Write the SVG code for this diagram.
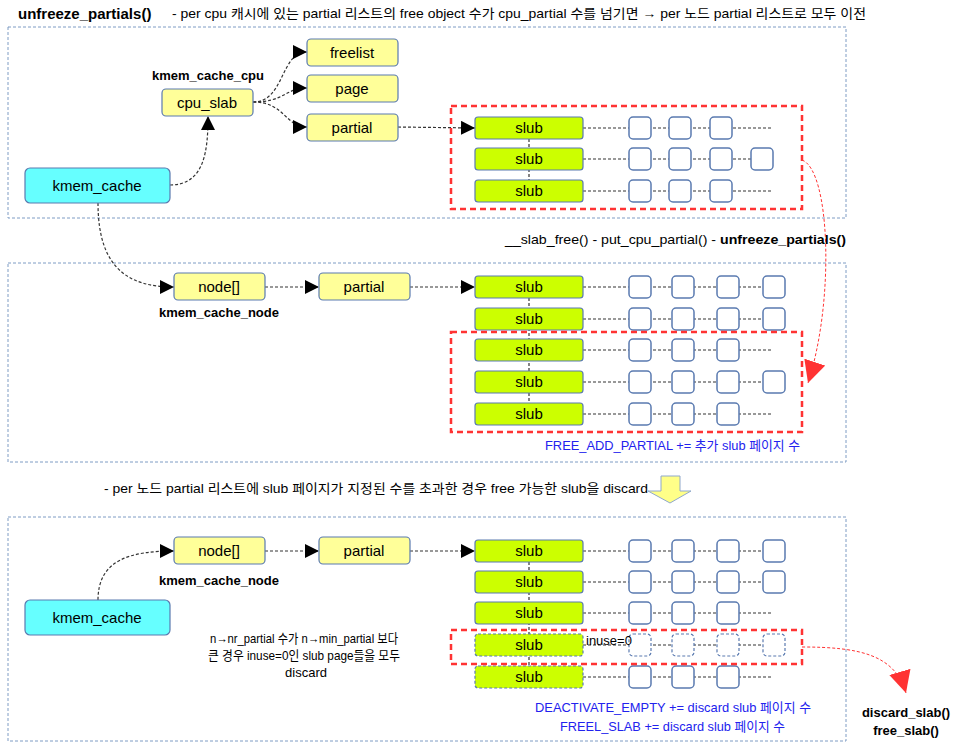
<svg xmlns="http://www.w3.org/2000/svg" width="962" height="750" viewBox="0 0 962 750">
<defs>
<style>
text{font-family:"Liberation Sans","Noto Sans CJK KR",sans-serif;}
.panel{fill:none;stroke:#7f9cc4;stroke-width:1;stroke-dasharray:3,2}
.y{fill:#ffff99;stroke:#5a7ab0;stroke-width:1.2}
.c{fill:#66ffff;stroke:#5a7ab0;stroke-width:1.2}
.s{fill:#ccff00;stroke:#5a7ab0;stroke-width:1.2}
.sd{fill:#ccff00;stroke:#5a7ab0;stroke-width:1.2;stroke-dasharray:3,2}
.o{fill:#fff;stroke:#5a7ab0;stroke-width:1.5}
.od{fill:#fff;stroke:#5a7ab0;stroke-width:1.2;stroke-dasharray:3,2}
.red{fill:none;stroke:#ff3333;stroke-width:2.5;stroke-dasharray:6,4}
.con{fill:none;stroke:#333;stroke-width:1.2;stroke-dasharray:3,2}
.lt{font-size:15px;text-anchor:middle}
.b{font-weight:bold}
.blue{fill:#2222ee;font-size:13px}
</style>
<marker id="ah" viewBox="0 0 10 10" refX="10" refY="5" markerWidth="14" markerHeight="14" markerUnits="userSpaceOnUse" orient="auto"><path d="M0,0L10,5L0,10z" fill="#000"/></marker>
<marker id="rh" viewBox="0 0 10 10" refX="10" refY="5" markerWidth="22" markerHeight="22" markerUnits="userSpaceOnUse" orient="auto"><path d="M0,0L10,5L0,10z" fill="#ff3333"/></marker>
</defs>
<rect width="962" height="750" fill="#fff"/>
<text x="18" y="19" font-size="15" class="b">unfreeze_partials()</text>
<text x="172" y="18" font-size="13" textLength="694" lengthAdjust="spacingAndGlyphs">- per cpu 캐시에 있는 partial 리스트의 free object 수가 cpu_partial 수를 넘기면 → per 노드 partial 리스트로 모두 이전</text>
<rect class="panel" x="8" y="27" width="838" height="191"/>
<rect class="panel" x="8" y="263" width="838" height="199"/>
<rect class="panel" x="8" y="517" width="838" height="224"/>

<g id="connectors">
<path class="con" d="M170,185 C205,185 208,150 208,116" marker-end="url(#ah)"/>
<path class="con" d="M253,102 C285,102 280,52 307,52" marker-end="url(#ah)"/>
<path class="con" d="M253,102 C285,102 285,88 307,88" marker-end="url(#ah)"/>
<path class="con" d="M253,102 C285,102 285,127 307,127" marker-end="url(#ah)"/>
<path class="con" d="M398,127 L475,128" marker-end="url(#ah)"/>
<path class="con" d="M98,203 C98,270 130,287 174,287" marker-end="url(#ah)"/>
<path class="con" d="M265,287 L319,287" marker-end="url(#ah)"/>
<path class="con" d="M410,287 L475,287" marker-end="url(#ah)"/>
<path class="con" d="M98,600 C98,560 130,551 174,551" marker-end="url(#ah)"/>
<path class="con" d="M265,551 L319,551" marker-end="url(#ah)"/>
<path class="con" d="M410,551 L475,551" marker-end="url(#ah)"/>
<path class="con" d="M529,139V180M529,298V403M529,562V666"/>
<path class="con" d="M583,128H773M583,159H773M583,191H773"/>
<path class="con" d="M583,287H763M583,319H763M583,350H773M583,382H763M583,414H773"/>
<path class="con" d="M583,551H763M583,582H763M583,613H773M583,645H763M583,677H773"/>
<path d="M802,160 C830,170 835,300 808,383" fill="none" stroke="#ff3333" stroke-width="1" stroke-dasharray="3,2" marker-end="url(#rh)"/>
<path d="M802,647 C860,647 895,655 906,693" fill="none" stroke="#ff3333" stroke-width="1" stroke-dasharray="3,2" marker-end="url(#rh)"/>
</g>

<g id="freelist"><rect class="y" x="307" y="39" width="91" height="27" rx="4"/><text class="lt" x="352" y="58">freelist</text></g>
<g id="page"><rect class="y" x="307" y="75" width="91" height="27" rx="4"/><text class="lt" x="352" y="94">page</text></g>
<g id="cpu_partial"><rect class="y" x="307" y="114" width="91" height="27" rx="4"/><text class="lt" x="352" y="133">partial</text></g>
<g id="cpu_slab"><text x="208" y="80" font-size="13" class="b" text-anchor="middle">kmem_cache_cpu</text><rect class="y" x="162" y="89" width="91" height="27" rx="4"/><text class="lt" x="207" y="108">cpu_slab</text></g>
<g id="kmem_cache1"><rect class="c" x="25" y="168" width="145" height="35" rx="5"/><text class="lt" x="97" y="191">kmem_cache</text></g>

<g id="slubs1">
<rect class="s" x="475" y="117" width="108" height="22" rx="3"/><text class="lt" x="529" y="133">slub</text>
<rect class="s" x="475" y="148" width="108" height="22" rx="3"/><text class="lt" x="529" y="164">slub</text>
<rect class="s" x="475" y="180" width="108" height="22" rx="3"/><text class="lt" x="529" y="196">slub</text>
<rect class="o" x="629" y="117" width="22" height="22" rx="4"/><rect class="o" x="669" y="117" width="22" height="22" rx="4"/><rect class="o" x="710" y="117" width="22" height="22" rx="4"/>
<rect class="o" x="629" y="148" width="22" height="22" rx="4"/><rect class="o" x="669" y="148" width="22" height="22" rx="4"/><rect class="o" x="710" y="148" width="22" height="22" rx="4"/><rect class="o" x="751" y="148" width="22" height="22" rx="4"/>
<rect class="o" x="629" y="180" width="22" height="22" rx="4"/><rect class="o" x="669" y="180" width="22" height="22" rx="4"/><rect class="o" x="710" y="180" width="22" height="22" rx="4"/>
<rect class="red" x="451" y="106" width="351" height="103"/>
</g>
<text x="505" y="244" font-size="13" textLength="341" lengthAdjust="spacingAndGlyphs">__slab_free() - put_cpu_partial() - <tspan font-weight="bold">unfreeze_partials()</tspan></text>

<g id="node2"><rect class="y" x="174" y="273" width="91" height="27" rx="4"/><text class="lt" x="219" y="292">node[]</text><text x="219" y="317" font-size="13" class="b" text-anchor="middle">kmem_cache_node</text></g>
<g id="partial2"><rect class="y" x="319" y="273" width="91" height="27" rx="4"/><text class="lt" x="364" y="292">partial</text></g>
<g id="slubs2">
<rect class="s" x="475" y="276" width="108" height="22" rx="3"/><text class="lt" x="529" y="292">slub</text>
<rect class="s" x="475" y="308" width="108" height="22" rx="3"/><text class="lt" x="529" y="324">slub</text>
<rect class="s" x="475" y="339" width="108" height="22" rx="3"/><text class="lt" x="529" y="355">slub</text>
<rect class="s" x="475" y="371" width="108" height="22" rx="3"/><text class="lt" x="529" y="387">slub</text>
<rect class="s" x="475" y="403" width="108" height="22" rx="3"/><text class="lt" x="529" y="419">slub</text>
<g class="o">
<rect x="629" y="276" width="22" height="22" rx="4"/><rect x="672" y="276" width="22" height="22" rx="4"/><rect x="717" y="276" width="22" height="22" rx="4"/><rect x="763" y="276" width="22" height="22" rx="4"/>
<rect x="629" y="308" width="22" height="22" rx="4"/><rect x="672" y="308" width="22" height="22" rx="4"/><rect x="717" y="308" width="22" height="22" rx="4"/><rect x="763" y="308" width="22" height="22" rx="4"/>
<rect x="629" y="339" width="22" height="22" rx="4"/><rect x="672" y="339" width="22" height="22" rx="4"/><rect x="717" y="339" width="22" height="22" rx="4"/>
<rect x="629" y="371" width="22" height="22" rx="4"/><rect x="672" y="371" width="22" height="22" rx="4"/><rect x="717" y="371" width="22" height="22" rx="4"/><rect x="763" y="371" width="22" height="22" rx="4"/>
<rect x="629" y="403" width="22" height="22" rx="4"/><rect x="672" y="403" width="22" height="22" rx="4"/><rect x="717" y="403" width="22" height="22" rx="4"/>
</g>
<rect class="red" x="451" y="332" width="351" height="100"/>
</g>
<text class="blue" x="545" y="450" textLength="255" lengthAdjust="spacingAndGlyphs">FREE_ADD_PARTIAL += 추가 slub 페이지 수</text>

<text x="104" y="493" font-size="13" textLength="544" lengthAdjust="spacingAndGlyphs">- per 노드 partial 리스트에 slub 페이지가 지정된 수를 초과한 경우 free 가능한 slub을 discard</text>
<path d="M661,476H680V491H691L670,503L648,491H661Z" fill="#ffff88" stroke="#8fa8cc" stroke-width="1"/>

<g id="kmem_cache3"><rect class="c" x="25" y="600" width="145" height="35" rx="5"/><text class="lt" x="97" y="623">kmem_cache</text></g>
<g id="node3"><rect class="y" x="174" y="537" width="91" height="27" rx="4"/><text class="lt" x="219" y="556">node[]</text><text x="219" y="585" font-size="13" class="b" text-anchor="middle">kmem_cache_node</text></g>
<g id="partial3"><rect class="y" x="319" y="537" width="91" height="27" rx="4"/><text class="lt" x="364" y="556">partial</text></g>
<g id="slubs3">
<rect class="s" x="475" y="540" width="108" height="22" rx="3"/><text class="lt" x="529" y="556">slub</text>
<rect class="s" x="475" y="571" width="108" height="22" rx="3"/><text class="lt" x="529" y="587">slub</text>
<rect class="s" x="475" y="602" width="108" height="22" rx="3"/><text class="lt" x="529" y="618">slub</text>
<rect class="sd" x="475" y="634" width="108" height="22" rx="3"/><text class="lt" x="529" y="650">slub</text>
<rect class="sd" x="475" y="666" width="108" height="22" rx="3"/><text class="lt" x="529" y="682">slub</text>
<g class="o">
<rect x="629" y="540" width="22" height="22" rx="4"/><rect x="672" y="540" width="22" height="22" rx="4"/><rect x="717" y="540" width="22" height="22" rx="4"/><rect x="763" y="540" width="22" height="22" rx="4"/>
<rect x="629" y="571" width="22" height="22" rx="4"/><rect x="672" y="571" width="22" height="22" rx="4"/><rect x="717" y="571" width="22" height="22" rx="4"/><rect x="763" y="571" width="22" height="22" rx="4"/>
<rect x="629" y="602" width="22" height="22" rx="4"/><rect x="672" y="602" width="22" height="22" rx="4"/><rect x="717" y="602" width="22" height="22" rx="4"/>
<rect x="629" y="666" width="22" height="22" rx="4"/><rect x="672" y="666" width="22" height="22" rx="4"/><rect x="717" y="666" width="22" height="22" rx="4"/>
</g>
<g class="od">
<rect x="629" y="634" width="22" height="22" rx="4"/><rect x="672" y="634" width="22" height="22" rx="4"/><rect x="717" y="634" width="22" height="22" rx="4"/><rect x="763" y="634" width="22" height="22" rx="4"/>
</g>
<text x="586" y="645" font-size="13">inuse=0</text>
<rect class="red" x="451" y="630" width="351" height="34"/>
</g>
<text x="210" y="643" font-size="13" textLength="188" lengthAdjust="spacingAndGlyphs">n→nr_partial 수가 n→min_partial 보다</text>
<text x="208" y="660" font-size="13" textLength="192" lengthAdjust="spacingAndGlyphs">큰 경우 inuse=0인 slub page들을 모두</text>
<text x="306" y="677" font-size="13" text-anchor="middle">discard</text>
<text class="blue" x="535" y="712" textLength="276" lengthAdjust="spacingAndGlyphs">DEACTIVATE_EMPTY += discard slub 페이지 수</text>
<text class="blue" x="560" y="731" textLength="225" lengthAdjust="spacingAndGlyphs">FREEL_SLAB += discard slub 페이지 수</text>
<text x="906" y="717" font-size="13" class="b" text-anchor="middle">discard_slab()</text>
<text x="906" y="735" font-size="13" class="b" text-anchor="middle">free_slab()</text>
</svg>
